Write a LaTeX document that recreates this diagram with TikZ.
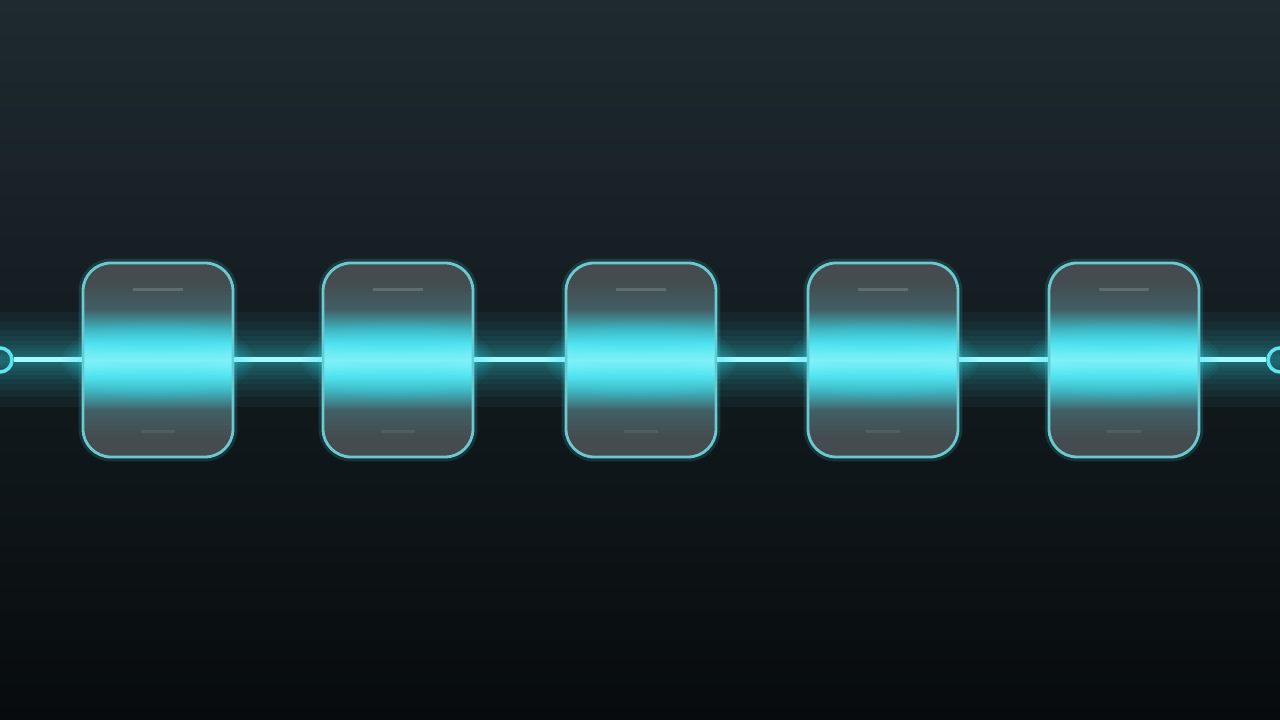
\documentclass[tikz,border=0pt]{standalone}
\definecolor{bgtop}{RGB}{30,42,48}
\definecolor{bgmid}{RGB}{19,30,35}
\definecolor{bgbot}{RGB}{7,11,13}
\definecolor{boxgrey}{RGB}{68,76,80}
\definecolor{boxteal}{RGB}{60,140,150}
\definecolor{glowcyan}{RGB}{60,225,240}
\definecolor{glowhi}{RGB}{165,250,255}
\definecolor{rimcyan}{RGB}{110,200,208}
\colorlet{bandlow}{boxgrey!70!boxteal}
\colorlet{bandmid}{glowcyan!70!boxgrey}
\colorlet{bandhi}{glowcyan!75!glowhi}
\pgfdeclareverticalshading{boxglow}{100bp}{color(0bp)=(boxgrey); color(25bp)=(boxgrey); color(30bp)=(boxgrey); color(37bp)=(bandlow); color(42bp)=(bandmid); color(46bp)=(bandhi); color(50bp)=(glowhi); color(54bp)=(bandhi); color(58bp)=(bandmid); color(63bp)=(bandlow); color(70bp)=(boxgrey); color(75bp)=(boxgrey); color(100bp)=(boxgrey)}

\begin{document}
\begin{tikzpicture}[
    stage/.style ={rectangle, rounded corners=0.28cm, minimum width=1.5cm,
      minimum height=1.94cm, draw=rimcyan, line width=0.8pt, shade, shading=boxglow,
      preaction={draw=glowcyan, line width=2.5pt, draw opacity=0.15}},
    port/.style ={circle, minimum size=0.24cm, inner sep=0pt, draw=glowcyan!70!white, line width=1pt},
    wire/.style ={glowhi, line width=0.5mm},
    halo/.style ={glowcyan, opacity=0.05}]
   \useasboundingbox (0,0) rectangle (12.8,7.2);
   \clip (0,0) rectangle (12.8,7.2);
   \shade[top color=bgtop, middle color=bgmid, bottom color=bgbot] (0,0) rectangle (12.8,7.2);

   % end points of the line
   \node[port] (L) at (0,3.6) {};
   \node[port] (R) at (12.8,3.6) {};

   % soft glow along the line
   \foreach \w in {0.08,0.12,0.17,0.23,0.3,0.38,0.48,0.6,0.75,0.95}
     \draw[halo, line width=\w cm] (L.center) -- (R.center);

   \node[stage] (A) at (1.58,3.6) {};
   \node[stage] (B) at (3.98,3.6) {};
   \node[stage] (C) at (6.41,3.6) {};
   \node[stage] (D) at (8.83,3.6) {};
   \node[stage] (E) at (11.24,3.6) {};

   \draw[wire] (L) to (A);
   \draw[wire] (A) to (B);
   \draw[wire] (B) to (C);
   \draw[wire] (C) to (D);
   \draw[wire] (D) to (E);
   \draw[wire] (E) to (R);

   % glow spilling over the box edges
   \foreach \n in {A,B,C,D,E}
     \foreach \k in {0,...,6}
       \fill[glowcyan, opacity=0.055] (\n) ellipse ({0.78+0.03*\k} and {0.06+0.055*\k});

   % faint captions (unreadable in the picture)
   \foreach \n in {A,B,C,D,E} {
     \draw[white, opacity=0.16, line width=0.8pt] ([xshift=-0.25cm,yshift=-0.28cm]\n.north) -- ([xshift=0.25cm,yshift=-0.28cm]\n.north);
     \draw[white, opacity=0.08, line width=0.8pt] ([xshift=-0.17cm,yshift=0.27cm]\n.south) -- ([xshift=0.17cm,yshift=0.27cm]\n.south);
   }
 \end{tikzpicture}
\end{document}
